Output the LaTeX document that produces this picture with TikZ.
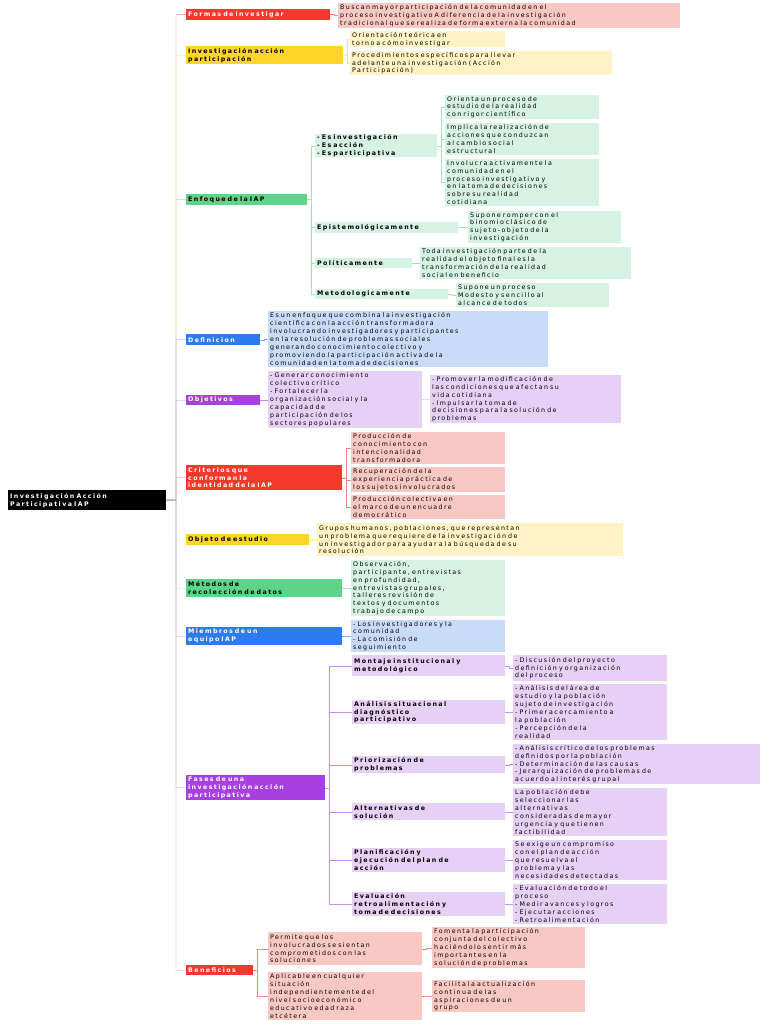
\documentclass[tikz,border=0pt]{standalone}
\usepackage{fontspec}
\setmainfont{DejaVu Sans}[LetterSpace=22]
\definecolor{cR}{HTML}{F2392B}\definecolor{lR}{HTML}{FAC8C2}
\definecolor{cY}{HTML}{FFD42B}\definecolor{lY}{HTML}{FFF2C4}
\definecolor{cG}{HTML}{5ED488}\definecolor{lG}{HTML}{D6F2E2}
\definecolor{cB}{HTML}{2D7BF0}\definecolor{lB}{HTML}{C8DCFA}
\definecolor{cP}{HTML}{A640E0}\definecolor{lP}{HTML}{E7D0F5}
\newcommand{\bx}[7]{\node[#6,anchor=north west,minimum width=#4pt,minimum height=#5pt,text width=#4pt-4pt] (#1) at (#2,#3) {#7};}
\newcommand{\lk}[3]{\draw[#1!60] (#2.east) -- ++(4,0) |- (#3.west);}
\begin{document}
\begin{tikzpicture}[x=1pt,y=-1pt,font=\fontsize{6.3}{7.9}\selectfont,
 every node/.style={inner xsep=2pt,inner ysep=0.5pt,align=left},
 mR/.style={fill=cR,text=white,font=\fontsize{6.3}{7.9}\selectfont\bfseries},
 mY/.style={fill=cY,font=\fontsize{6.3}{7.9}\selectfont\bfseries},
 mG/.style={fill=cG,font=\fontsize{6.3}{7.9}\selectfont\bfseries},
 mB/.style={fill=cB,text=white,font=\fontsize{6.3}{7.9}\selectfont\bfseries},
 mP/.style={fill=cP,text=white,font=\fontsize{6.3}{7.9}\selectfont\bfseries},
 sG/.style={fill=lG,font=\fontsize{6.3}{7.9}\selectfont\bfseries},
 sP/.style={fill=lP,font=\fontsize{6.3}{7.9}\selectfont\bfseries},
 R/.style={fill=lR},Y/.style={fill=lY},G/.style={fill=lG},B/.style={fill=lB},P/.style={fill=lP}]
\useasboundingbox (0,0) rectangle (768,1024);
\fill[white] (0,0) rectangle (768,1024);
\bx{root}{8}{490}{158}{20}{fill=black,text=white,font=\fontsize{6.3}{7.9}\selectfont\bfseries}{Investigación Acción\\Participativa IAP}
% main nodes
\bx{f1}{186}{9}{144}{11}{mR}{Formas de investigar}
\bx{f2}{186}{46}{157}{18}{mY}{Investigación acción\\participación}
\bx{f3}{186}{194}{121}{11}{mG}{Enfoque de la IAP}
\bx{f4}{186}{334}{74}{11}{mB}{Definicion}
\bx{f5}{186}{395}{74}{10}{mP}{Objetivos}
\bx{f6}{186}{465}{156}{25}{mR}{Criterios que\\conforman la\\identidad de la IAP}
\bx{f7}{186}{534}{123}{11}{mY}{Objeto de estudio}
\bx{f8}{186}{579}{156}{18}{mG}{Métodos de\\recolección de datos}
\bx{f9}{186}{627}{156}{18}{mB}{Miembros de un\\equipo IAP}
\bx{f10}{186}{775}{139}{25}{mP}{Fases de una\\investigación acción\\participativa}
\bx{f11}{186}{965}{67}{10}{mR}{Beneficios}
\foreach \n/\c in {f1/cR,f2/cY,f3/cG,f4/cB,f5/cP,f6/cR,f7/cY,f8/cG,f9/cB,f10/cP,f11/cR}
 \draw[\c!60] (root.east) -- (176,500) |- (\n.west);
% children
\bx{a1}{338}{3}{342}{25}{R}{Buscan mayor participación de la comunidad en el\\proceso investigativo A diferencia de la investigación\\tradicional que se realiza de forma externa la comunidad}
\lk{cR}{f1}{a1}
\bx{b1}{350}{31}{155}{16}{Y}{Orientación teórica en\\torno a cómo investigar}
\bx{b2}{350}{51}{262}{24}{Y}{Procedimientos específicos para llevar\\adelante una investigación (Acción\\Participación)}
\lk{cY}{f2}{b1}\lk{cY}{f2}{b2}
\bx{c1}{315}{134}{122}{23}{sG}{- Es investigación\\- Es acción\\- Es participativa}
\bx{c11}{445}{95}{154}{24}{G}{Orienta un proceso de\\estudio de la realidad\\con rigor científico}
\bx{c12}{445}{123}{154}{32}{G}{Implica la realización de\\acciones que conduzcan\\al cambio social\\estructural}
\bx{c13}{445}{159}{154}{47}{G}{Involucra activamente la\\comunidad en el\\proceso investigativo y\\en la toma de decisiones\\sobre su realidad\\cotidiana}
\bx{c2}{315}{222}{143}{11}{sG}{Epistemológicamente}
\bx{c21}{468}{211}{153}{32}{G}{Supone romper con el\\binomio clásico de\\sujeto-objeto de la\\investigación}
\bx{c3}{315}{258}{97}{10}{sG}{Políticamente}
\bx{c31}{420}{247}{211}{32}{G}{Toda investigación parte de la\\realidad el objeto final es la\\transformación de la realidad\\social en beneficio}
\bx{c4}{315}{289}{133}{10}{sG}{Metodologicamente}
\bx{c41}{456}{283}{153}{24}{G}{Supone un proceso\\Modesto y sencillo al\\alcance de todos}
\foreach \n in {c1,c2,c3,c4} {\lk{cG}{f3}{\n}}
\foreach \n in {c11,c12,c13} {\lk{cG}{c1}{\n}}
\lk{cG}{c2}{c21}\lk{cG}{c3}{c31}\lk{cG}{c4}{c41}
\bx{d1}{268}{311}{280}{56}{B}{Es un enfoque que combina la investigación\\científica con la acción transformadora\\involucrando investigadores y participantes\\en la resolución de problemas sociales\\generando conocimiento colectivo y\\promoviendo la participación activa de la\\comunidad en la toma de decisiones}
\lk{cB}{f4}{d1}
\bx{e1}{268}{371}{154}{57}{P}{- Generar conocimiento\\colectivo crítico\\- Fortalecer la\\organización social y la\\capacidad de\\participación de los\\sectores populares}
\bx{e2}{430}{375}{191}{48}{P}{- Promover la modificación de\\las condiciones que afectan su\\vida cotidiana\\- Impulsar la toma de\\decisiones para la solución de\\problemas}
\lk{cP}{f5}{e1}\draw[cP!40] (e1.east) -- (e2.west);
\bx{g1}{351}{432}{154}{32}{R}{Producción de\\conocimiento con\\intencionalidad\\transformadora}
\bx{g2}{351}{467}{154}{25}{R}{Recuperación de la\\experiencia práctica de\\los sujetos involucrados}
\bx{g3}{351}{495}{154}{24}{R}{Producción colectiva en\\el marco de un encuadre\\democrático}
\foreach \n in {g1,g2,g3} {\lk{cR}{f6}{\n}}
\bx{h1}{317}{523}{306}{33}{Y}{Grupos humanos, poblaciones, que representan\\un problema que requiere de la investigación de\\un investigador para ayudar a la búsqueda de su\\resolución}
\lk{cY}{f7}{h1}
\bx{i1}{351}{560}{154}{56}{G}{Observación,\\participante, entrevistas\\en profundidad,\\entrevistas grupales,\\talleres revisión de\\textos y documentos\\trabajo de campo}
\lk{cG}{f8}{i1}
\bx{j1}{351}{620}{154}{32}{B}{- Los investigadores y la\\comunidad\\- La comisión de\\seguimiento}
\lk{cB}{f9}{j1}
\bx{k1}{352}{655}{153}{21}{sP}{Montaje institucional y\\metodológico}
\bx{k2}{352}{700}{153}{24}{sP}{Análisis situacional\\diagnóstico\\participativo}
\bx{k3}{352}{756}{153}{17}{sP}{Priorización de\\problemas}
\bx{k4}{352}{803}{153}{17}{sP}{Alternativas de\\solución}
\bx{k5}{352}{848}{153}{24}{sP}{Planificación y\\ejecución del plan de\\acción}
\bx{k6}{352}{892}{153}{24}{sP}{Evaluación\\retroalimentación y\\toma de decisiones}
\bx{k11}{513}{655}{154}{26}{P}{- Discusión del proyecto\\definición y organización\\del proceso}
\bx{k21}{513}{684}{154}{56}{P}{- Análisis del área de\\estudio y la población\\sujeto de investigación\\- Primer acercamiento a\\la población\\- Percepción de la\\realidad}
\bx{k31}{513}{744}{247}{40}{P}{- Análisis crítico de los problemas\\definidos por la población\\- Determinación de las causas\\- Jerarquización de problemas de\\acuerdo al interés grupal}
\bx{k41}{513}{788}{154}{48}{P}{La población debe\\seleccionar las\\alternativas\\consideradas de mayor\\urgencia y que tienen\\factibilidad}
\bx{k51}{513}{840}{154}{40}{P}{Se exige un compromiso\\con el plan de acción\\que resuelva el\\problema y las\\necesidades detectadas}
\bx{k61}{513}{884}{154}{40}{P}{- Evaluación de todo el\\proceso\\- Medir avances y logros\\- Ejecutar acciones\\- Retroalimentación}
\foreach \n in {k1,k2,k3,k4,k5,k6} {\lk{cP}{f10}{\n}\lk{cP}{\n}{\n1}}
\bx{m1}{268}{932}{154}{33}{R}{Permite que los\\involucrados se sientan\\comprometidos con las\\soluciones}
\bx{m2}{268}{972}{154}{48}{R}{Aplicable en cualquier\\situación\\independientemente del\\nivel socioeconómico\\educativo edad raza\\etcétera}
\bx{m11}{432}{927}{153}{41}{R}{Fomenta la participación\\conjunta del colectivo\\haciéndolo sentir más\\importantes en la\\solución de problemas}
\bx{m21}{432}{980}{153}{32}{R}{Facilita la actualización\\continua de las\\aspiraciones de un\\grupo}
\lk{cR}{f11}{m1}\lk{cR}{f11}{m2}\lk{cR}{m1}{m11}\lk{cR}{m2}{m21}
\end{tikzpicture}
\end{document}
